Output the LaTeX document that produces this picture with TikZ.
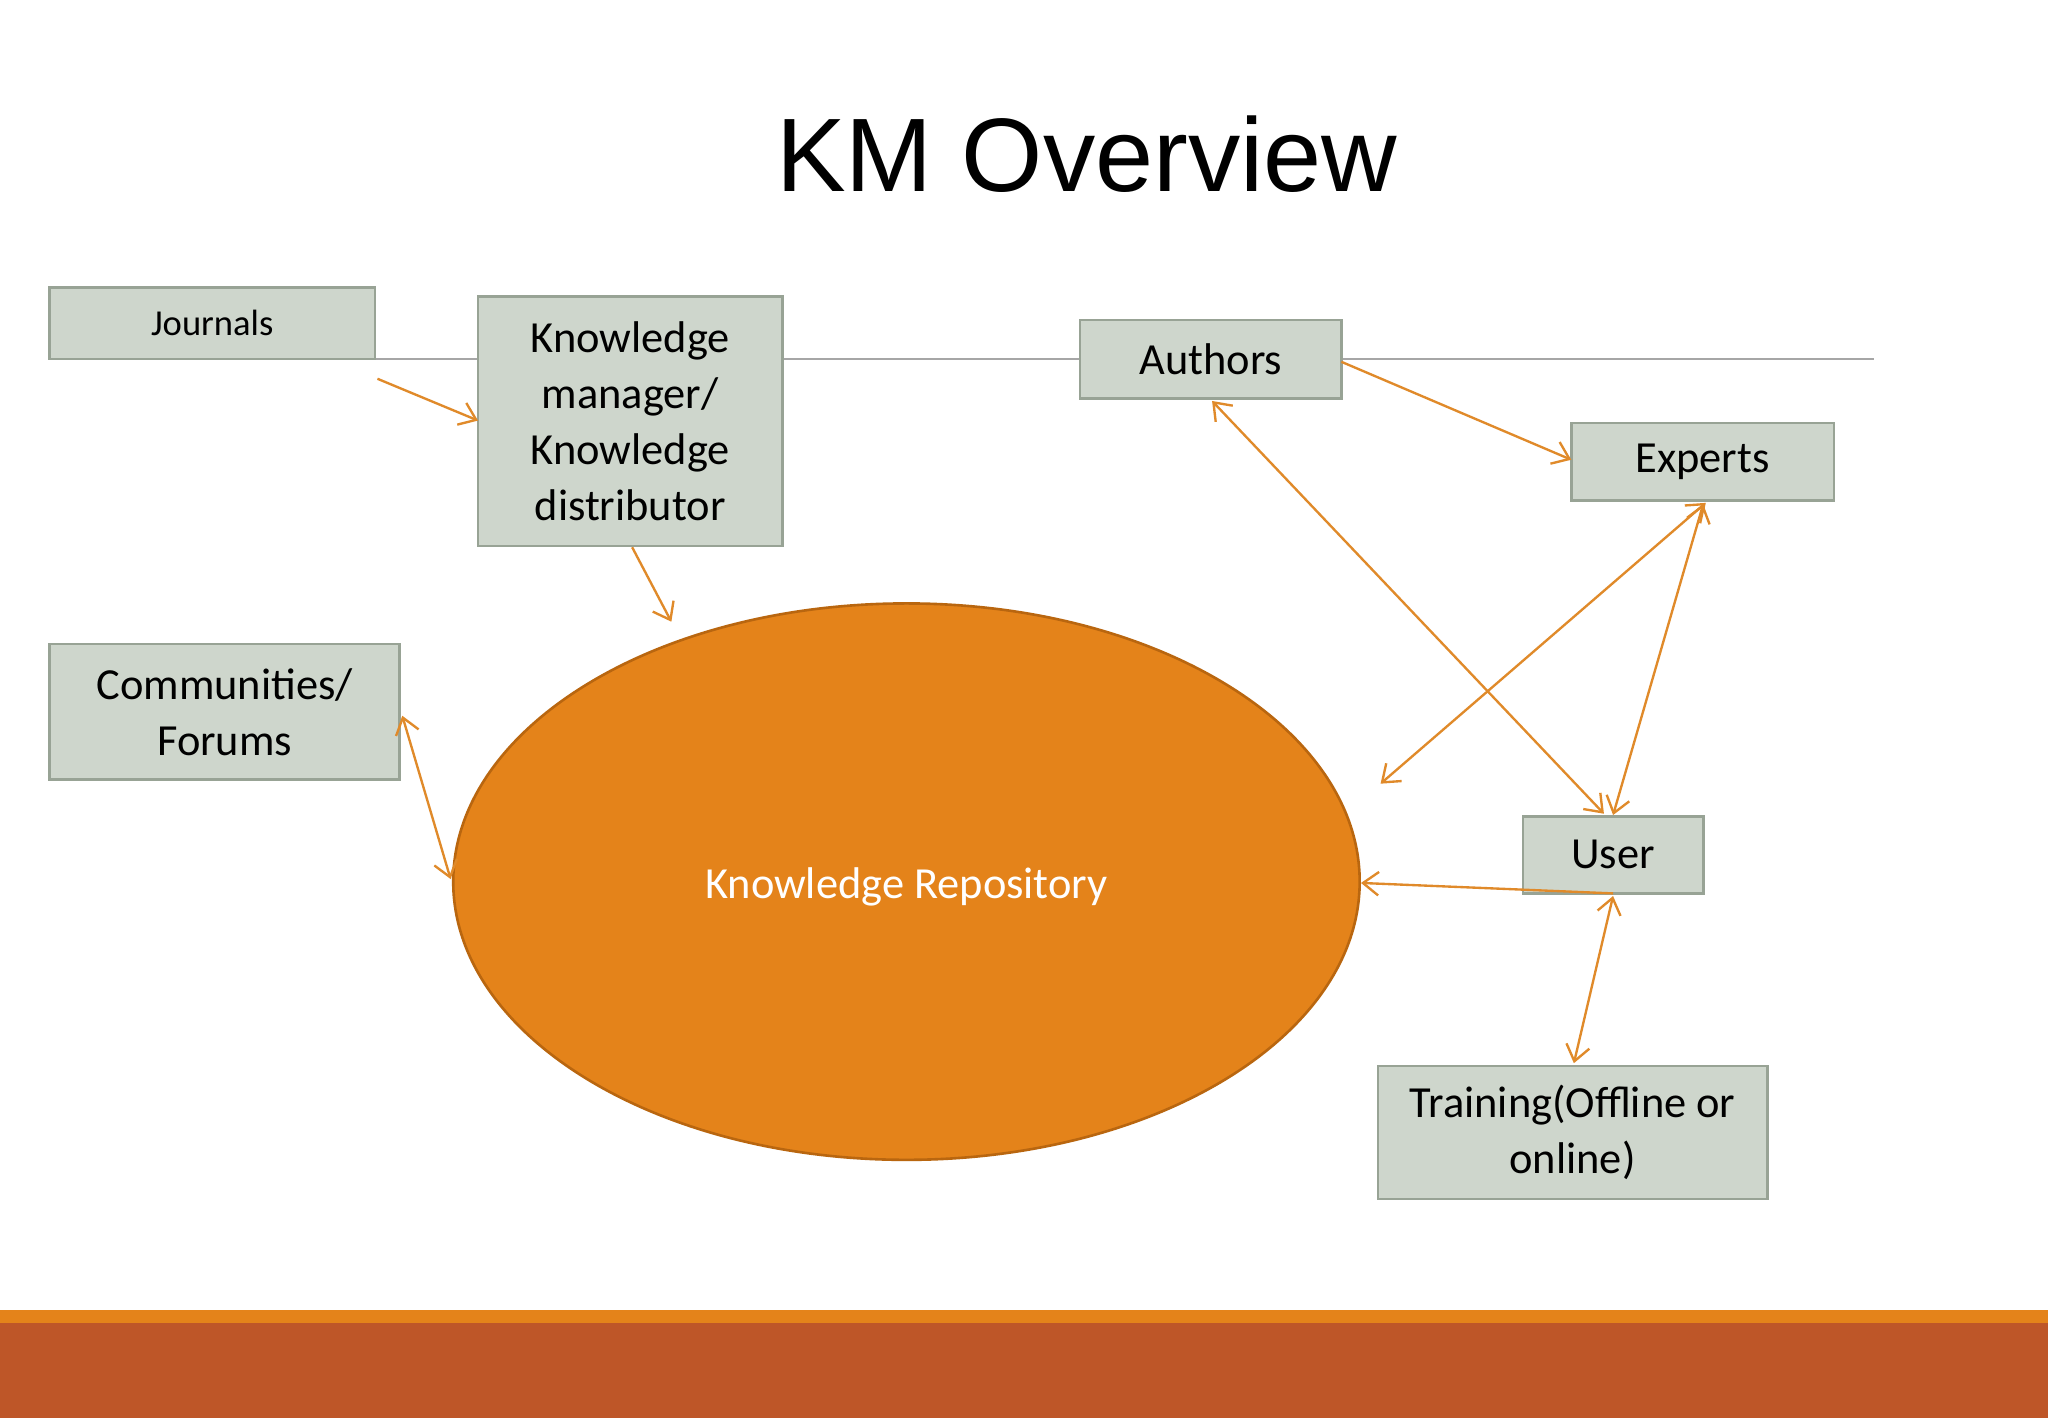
\documentclass[tikz,border=0pt]{standalone}
\usepackage{fontspec}
\setmainfont{Carlito}
\newfontfamily\titlefont{Liberation Sans}
\usetikzlibrary{arrows.meta}
\definecolor{boxfill}{HTML}{CED6CC}
\definecolor{boxline}{HTML}{98A395}
\definecolor{orng}{HTML}{E4831A}
\definecolor{orngd}{HTML}{B9660F}
\definecolor{arr}{HTML}{E08A2A}
\definecolor{rust}{HTML}{BE5628}
\tikzset{
  kbox/.style={draw=boxline, fill=boxfill, line width=1pt, inner sep=0pt, align=center, font=\fontsize{17}{21.5}\selectfont},
  conn/.style={draw=arr, line width=0.9pt, -{Straight Barb[length=6pt,width=9pt]}},
  conn2/.style={draw=arr, line width=0.9pt, {Straight Barb[length=6pt,width=9pt]}-{Straight Barb[length=6pt,width=9pt]}}
}
\begin{document}
\begin{tikzpicture}[x=0.5pt,y=-0.5pt]
\useasboundingbox (0,0) rectangle (1568,1086);
\fill[white] (0,0) rectangle (1568,1086);
\fill[orng] (0,1003) rectangle (1568,1013);
\fill[rust] (0,1013) rectangle (1568,1086);
\node[font=\titlefont\fontsize{40}{48}\selectfont] (title) at (832,118) {KM Overview};
\draw[gray!70, line width=0.6pt] (287,275) -- (1435,275);
\node[kbox, minimum width=124.5pt, minimum height=27.5pt, font=\fontsize{14}{17}\selectfont] (jour) at (162.5,247.5) {Journals};
\node[kbox, minimum width=116.5pt, minimum height=95.5pt] (km) at (482.5,322.5) {Knowledge\\manager/\\Knowledge\\distributor};
\node[kbox, minimum width=100pt, minimum height=30pt] (auth) at (927,275) {Authors};
\node[kbox, minimum width=100.5pt, minimum height=29.5pt] (exp) at (1303.5,353.5) {Experts};
\node[kbox, minimum width=134pt, minimum height=52pt] (comm) at (172,545) {Communities/\\Forums};
\node[kbox, minimum width=69pt, minimum height=29.5pt] (user) at (1235,654.5) {User};
\node[kbox, minimum width=149pt, minimum height=51pt] (train) at (1204,867) {Training(Offline or\\online)};
\draw[orngd, fill=orng, line width=1pt] (694,675) ellipse [x radius=347, y radius=213];
\node[white, font=\fontsize{17}{20}\selectfont] (kr) at (694,679) {Knowledge Repository};
% connector endpoints
\coordinate (a1) at (289,290); \coordinate (a2) at (366,322);
\coordinate (b1) at (484,419); \coordinate (b2) at (514,476);
\coordinate (c1) at (308,548); \coordinate (c2) at (345,673);
\coordinate (d1) at (928,307); \coordinate (d2) at (1228,623);
\coordinate (e1) at (1027,277); \coordinate (e2) at (1203,352);
\coordinate (f1) at (1306,385); \coordinate (f2) at (1057,600);
\coordinate (g1) at (1304,386); \coordinate (g2) at (1235,624);
\coordinate (h1) at (1235,684); \coordinate (h2) at (1042,676);
\coordinate (i1) at (1235,686); \coordinate (i2) at (1205,814);
\draw[conn] (a1) -- (a2);
\draw[conn] (b1) -- (b2);
\draw[conn2] (c1) -- (c2);
\draw[conn2] (d1) -- (d2);
\draw[conn] (e1) -- (e2);
\draw[conn2] (f1) -- (f2);
\draw[conn2] (g1) -- (g2);
\draw[conn] (h1) -- (h2);
\draw[conn2] (i1) -- (i2);
\end{tikzpicture}
\end{document}
